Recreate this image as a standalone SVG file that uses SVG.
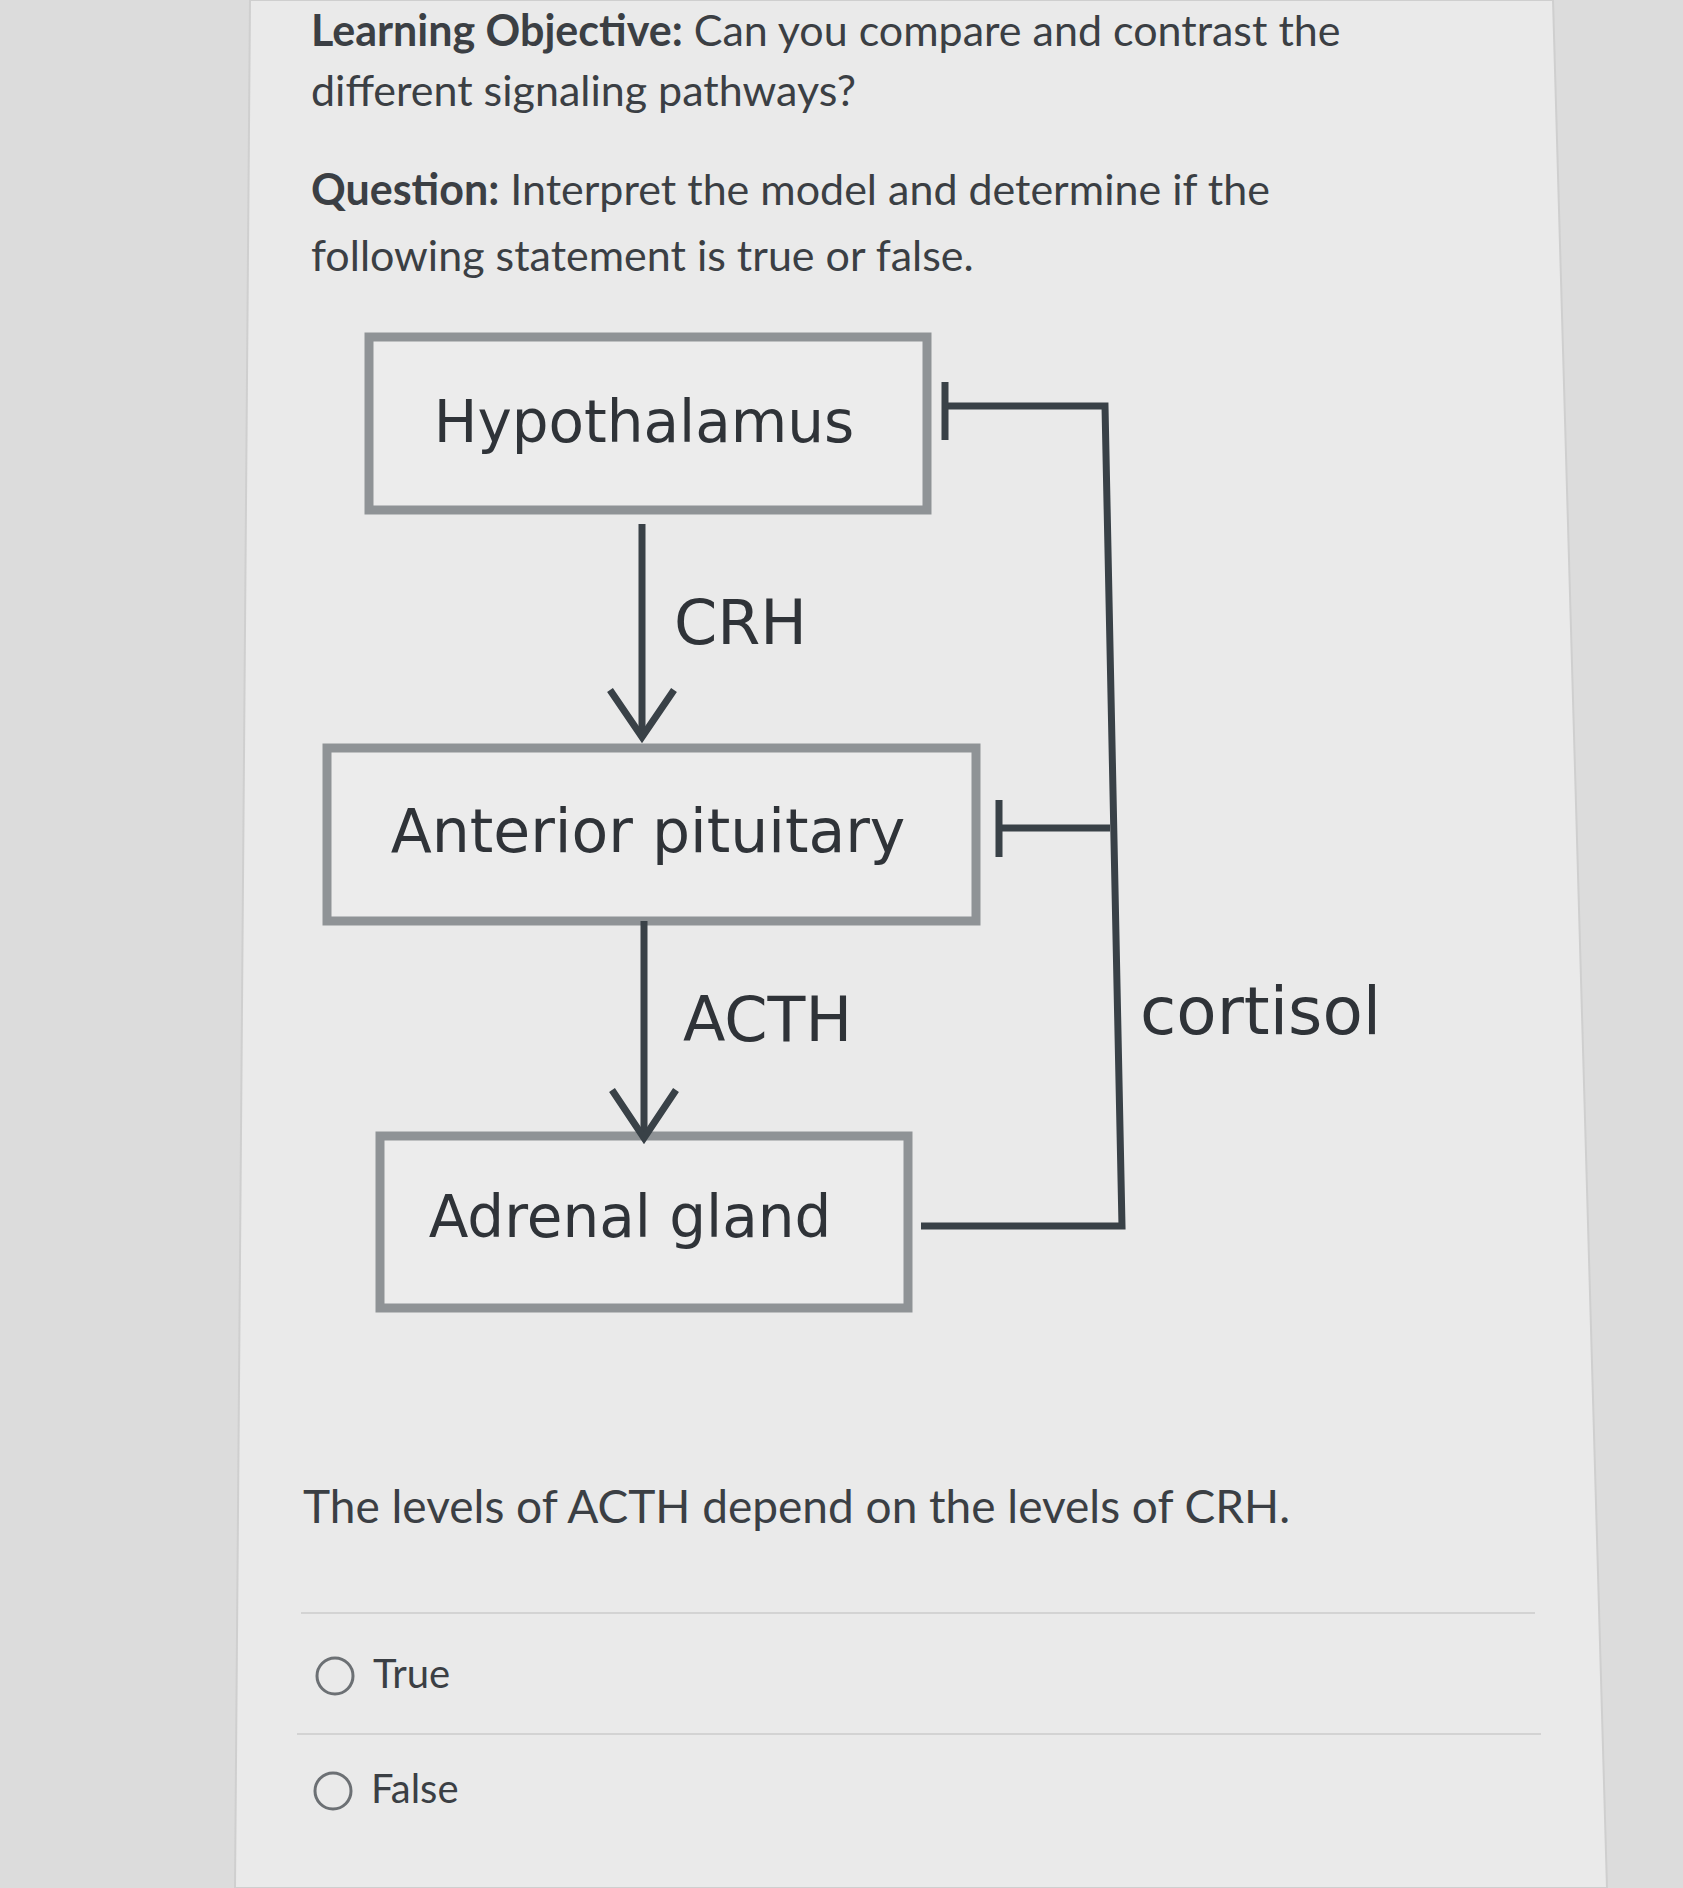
<svg xmlns="http://www.w3.org/2000/svg" width="1683" height="1888" viewBox="0 0 1683 1888">
<style>
.t{font-family:Lato,"Open Sans",sans-serif;fill:#3b3f44}
.h{font-family:"DejaVu Sans",sans-serif;fill:#2f3338}
.box{fill:#ececec;stroke:#8f9396;stroke-width:9}
.ln{stroke:#394147;stroke-width:7;fill:none}
.sep{stroke:#d3d3d3;stroke-width:2}
.rad{fill:none;stroke:#6c7074;stroke-width:3}
</style>
<rect width="1683" height="1888" fill="#dcdcdc"/>
<polygon points="250,0 1553,0 1607,1888 235,1888" fill="#eaeaea" stroke="#cfcfcf" stroke-width="2"/>
<text class="t" x="311" y="46" font-size="43"><tspan font-weight="bold">Learning Objective:</tspan> Can you compare and contrast the</text>
<text class="t" x="311" y="106" font-size="43">different signaling pathways?</text>
<text class="t" x="311" y="205" font-size="43"><tspan font-weight="bold">Question:</tspan> Interpret the model and determine if the</text>
<text class="t" x="311" y="271" font-size="43">following statement is true or false.</text>
<g id="hypothalamus"><rect class="box" x="369" y="337" width="558" height="173"/><text class="h" x="644" y="442" text-anchor="middle" font-size="58">Hypothalamus</text></g>
<g id="pituitary"><rect class="box" x="327" y="748" width="649" height="173"/><text class="h" x="648" y="852" text-anchor="middle" font-size="60">Anterior pituitary</text></g>
<g id="adrenal"><rect class="box" x="380" y="1136" width="528" height="172"/><text class="h" x="630" y="1237" text-anchor="middle" font-size="58">Adrenal gland</text></g>
<g id="connectors">
<line class="ln" x1="642" y1="524" x2="642" y2="735"/>
<path class="ln" d="M610 690 L642 737 L674 690"/>
<line class="ln" x1="644" y1="921" x2="644" y2="1136"/>
<path class="ln" d="M612 1090 L644 1138 L676 1090"/>
<path class="ln" d="M921 1226 L1122 1226 L1105 406 L945 406"/>
<line class="ln" x1="945" y1="382" x2="945" y2="440"/>
<line class="ln" x1="999" y1="828" x2="1110" y2="828"/>
<line class="ln" x1="999" y1="800" x2="999" y2="857"/>
</g>
<text class="h" x="674" y="644" font-size="62">CRH</text>
<text class="h" x="683" y="1041" font-size="62">ACTH</text>
<text class="h" x="1140" y="1034" font-size="66">cortisol</text>
<text class="t" x="303" y="1523" font-size="46">The levels of ACTH depend on the levels of CRH.</text>
<line class="sep" x1="301" y1="1613" x2="1535" y2="1613"/>
<circle class="rad" cx="335" cy="1676" r="18"/>
<text class="t" x="373" y="1688" font-size="40">True</text>
<line class="sep" x1="297" y1="1734" x2="1541" y2="1734"/>
<circle class="rad" cx="333" cy="1791" r="18"/>
<text class="t" x="371" y="1803" font-size="40">False</text>
</svg>
